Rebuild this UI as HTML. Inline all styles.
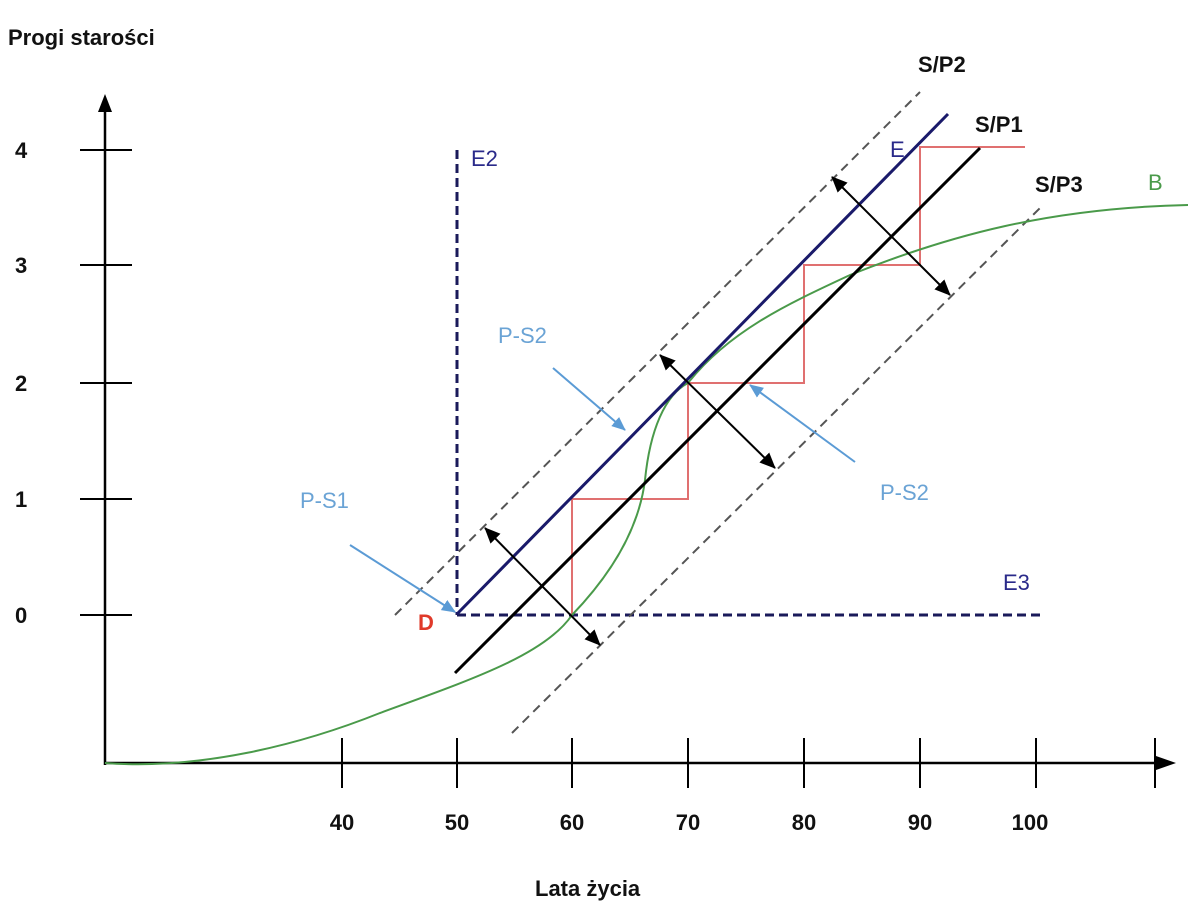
<!DOCTYPE html>
<html><head><meta charset="utf-8"><style>
html,body{margin:0;padding:0;background:#fff;}
svg{display:block;}
text{font-family:"Liberation Sans",sans-serif;}
</style></head><body>
<svg width="1193" height="913" viewBox="0 0 1193 913" xmlns="http://www.w3.org/2000/svg">
<defs>
<marker id="bh" markerWidth="14" markerHeight="12" refX="13" refY="6" orient="auto" markerUnits="userSpaceOnUse"><path d="M0,0 L14,6 L0,12 z" fill="#5b9bd5"/></marker>
<marker id="kh" markerWidth="16" markerHeight="14" refX="15" refY="7" orient="auto" markerUnits="userSpaceOnUse"><path d="M0,0 L16,7 L0,14 z" fill="#000"/></marker>
<marker id="ks" markerWidth="16" markerHeight="14" refX="1" refY="7" orient="auto" markerUnits="userSpaceOnUse"><path d="M16,0 L0,7 L16,14 z" fill="#000"/></marker>
</defs>
<line x1="105" y1="765" x2="105" y2="100" stroke="#000" stroke-width="2.5"/>
<path d="M98,112 L105,94 L112,112 z" fill="#000"/>
<line x1="104" y1="763" x2="1160" y2="763" stroke="#000" stroke-width="2.5"/>
<path d="M1156,756 L1176,763 L1156,770 z" fill="#000"/>
<g stroke="#000" stroke-width="2">
<line x1="80" y1="150" x2="132" y2="150"/><line x1="80" y1="265" x2="132" y2="265"/>
<line x1="80" y1="383" x2="132" y2="383"/><line x1="80" y1="499" x2="132" y2="499"/>
<line x1="80" y1="615" x2="132" y2="615"/>
<line x1="342" y1="738" x2="342" y2="788"/><line x1="457" y1="738" x2="457" y2="788"/>
<line x1="572" y1="738" x2="572" y2="788"/><line x1="688" y1="738" x2="688" y2="788"/>
<line x1="804" y1="738" x2="804" y2="788"/><line x1="920" y1="738" x2="920" y2="788"/>
<line x1="1036" y1="738" x2="1036" y2="788"/><line x1="1155" y1="738" x2="1155" y2="788"/>
</g>
<g font-size="22" font-weight="bold" fill="#111">
<text x="8" y="45">Progi starości</text>
<text x="15" y="158">4</text><text x="15" y="273">3</text><text x="15" y="391">2</text>
<text x="15" y="507">1</text><text x="15" y="623">0</text>
<text x="342" y="830" text-anchor="middle">40</text><text x="457" y="830" text-anchor="middle">50</text>
<text x="572" y="830" text-anchor="middle">60</text><text x="688" y="830" text-anchor="middle">70</text>
<text x="804" y="830" text-anchor="middle">80</text><text x="920" y="830" text-anchor="middle">90</text>
<text x="1030" y="830" text-anchor="middle">100</text>
<text x="535" y="896">Lata życia</text>
<text x="918" y="72">S/P2</text><text x="975" y="132">S/P1</text><text x="1035" y="192">S/P3</text>
</g>
<text x="1148" y="190" font-size="22" fill="#4a9a4a">B</text>
<text x="890" y="157" font-size="22" fill="#2a2a8a">E</text>
<text x="471" y="166" font-size="22" fill="#2a2a8a">E2</text>
<text x="1003" y="590" font-size="22" fill="#2a2a8a">E3</text>
<text x="418" y="630" font-size="22" font-weight="bold" fill="#e03a2a">D</text>
<g font-size="22" fill="#6aa3d5">
<text x="300" y="508">P-S1</text><text x="498" y="343">P-S2</text><text x="880" y="500">P-S2</text>
</g>
<line x1="457" y1="150" x2="457" y2="615" stroke="#1a1a5a" stroke-width="3" stroke-dasharray="9,5"/>
<line x1="457" y1="615" x2="1040" y2="615" stroke="#1a1a5a" stroke-width="3" stroke-dasharray="9,5"/>
<line x1="395" y1="615" x2="920" y2="92" stroke="#555" stroke-width="2" stroke-dasharray="9,6"/>
<line x1="512" y1="733" x2="1040" y2="208" stroke="#555" stroke-width="2" stroke-dasharray="9,6"/>
<path d="M572,615 V499 H688 V383 H804 V265 H920 V147 H1025" fill="none" stroke="#e07070" stroke-width="2"/>
<path d="M105,763 C200,770 300,745 380,713 C470,680 545,655 572,615 C620,565 640,520 645,480 C650,430 665,395 688,383 C730,330 790,303 850,275 C950,235 1050,208 1188,205" fill="none" stroke="#4a9a4a" stroke-width="2"/>
<line x1="457" y1="614" x2="948" y2="114" stroke="#1a1a6a" stroke-width="3"/>
<line x1="455" y1="673" x2="980" y2="148" stroke="#000" stroke-width="3"/>
<g stroke="#000" stroke-width="2">
<line x1="485" y1="528" x2="600" y2="645" marker-start="url(#ks)" marker-end="url(#kh)"/>
<line x1="660" y1="355" x2="775" y2="468" marker-start="url(#ks)" marker-end="url(#kh)"/>
<line x1="832" y1="177" x2="950" y2="295" marker-start="url(#ks)" marker-end="url(#kh)"/>
</g>
<g stroke="#5b9bd5" stroke-width="2">
<line x1="350" y1="545" x2="455" y2="612" marker-end="url(#bh)"/>
<line x1="553" y1="368" x2="625" y2="430" marker-end="url(#bh)"/>
<line x1="855" y1="462" x2="750" y2="385" marker-end="url(#bh)"/>
</g>
</svg>
</body></html>
